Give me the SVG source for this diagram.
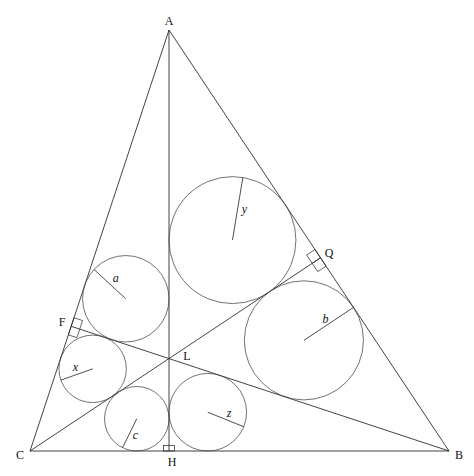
<svg xmlns="http://www.w3.org/2000/svg" width="474" height="476" viewBox="0 0 474 476">
<style>
.ln{stroke:#222;stroke-width:0.85;fill:none}
.cr{stroke:#444;stroke-width:0.75;fill:none}
.rd{stroke:#222;stroke-width:0.8;fill:none}
.mk{stroke:#222;stroke-width:0.7;fill:none}
.lb{font-family:"Liberation Serif","DejaVu Serif",serif;font-size:12px;fill:#111;text-anchor:middle}
.it{font-family:"Liberation Serif","DejaVu Serif",serif;font-size:12px;font-style:italic;fill:#111;text-anchor:middle}
</style>
<rect width="474" height="476" fill="#fff"/>
<g id="connectors">
<polygon class="ln" points="169,30 30,451 449,451"/>
<line class="ln" x1="169" y1="30" x2="169" y2="451"/>
<line class="ln" x1="30" y1="451" x2="320.5" y2="257.8"/>
<line class="ln" x1="449" y1="451" x2="71.2" y2="326.3"/>
</g>
<g id="markers">
<rect class="mk" x="163.5" y="445.5" width="11" height="5.5"/>
<polygon class="mk" points="314.96,249.47 326.04,266.13 317.71,271.67 306.63,255.01"/>
<line class="mk" x1="320.5" y1="257.8" x2="312.17" y2="263.34"/>
<polygon class="mk" points="74.02,317.75 68.38,334.85 76.93,337.67 82.57,320.57"/>
</g>
<g id="circle-y">
<circle class="cr" cx="232.48" cy="240.09" r="63.48"/>
<line class="rd" x1="232.48" y1="240.09" x2="242.85" y2="177.46"/>
<text class="it" x="244.5" y="212.5">y</text>
</g>
<g id="circle-b">
<circle class="cr" cx="303.89" cy="340.36" r="59.56"/>
<line class="rd" x1="303.89" y1="340.36" x2="353.5" y2="307.4"/>
<text class="it" x="325.5" y="322.5">b</text>
</g>
<g id="circle-a">
<circle class="cr" cx="125.78" cy="298.77" r="43.22"/>
<line class="rd" x1="125.78" y1="298.77" x2="94.02" y2="269.46"/>
<text class="it" x="115.7" y="281.7">a</text>
</g>
<g id="circle-x">
<circle class="cr" cx="92.64" cy="368.85" r="33.72"/>
<line class="rd" x1="92.64" y1="368.85" x2="60.86" y2="380.11"/>
<text class="it" x="75.3" y="371">x</text>
</g>
<g id="circle-c">
<circle class="cr" cx="136.75" cy="418.75" r="32.25"/>
<line class="rd" x1="136.75" y1="418.75" x2="122.6" y2="447.7"/>
<text class="it" x="135.3" y="439">c</text>
</g>
<g id="circle-z">
<circle class="cr" cx="207.79" cy="412.21" r="38.79"/>
<line class="rd" x1="207.79" y1="412.21" x2="243.76" y2="426.74"/>
<text class="it" x="229" y="417">z</text>
</g>
<g id="labels">
<text class="lb" x="169" y="25">A</text>
<text class="lb" x="20" y="459">C</text>
<text class="lb" x="459" y="459">B</text>
<text class="lb" x="172" y="466">H</text>
<text class="lb" x="329" y="256.5">Q</text>
<text class="lb" x="62" y="326">F</text>
<text class="lb" x="187" y="360">L</text>
</g>
</svg>
